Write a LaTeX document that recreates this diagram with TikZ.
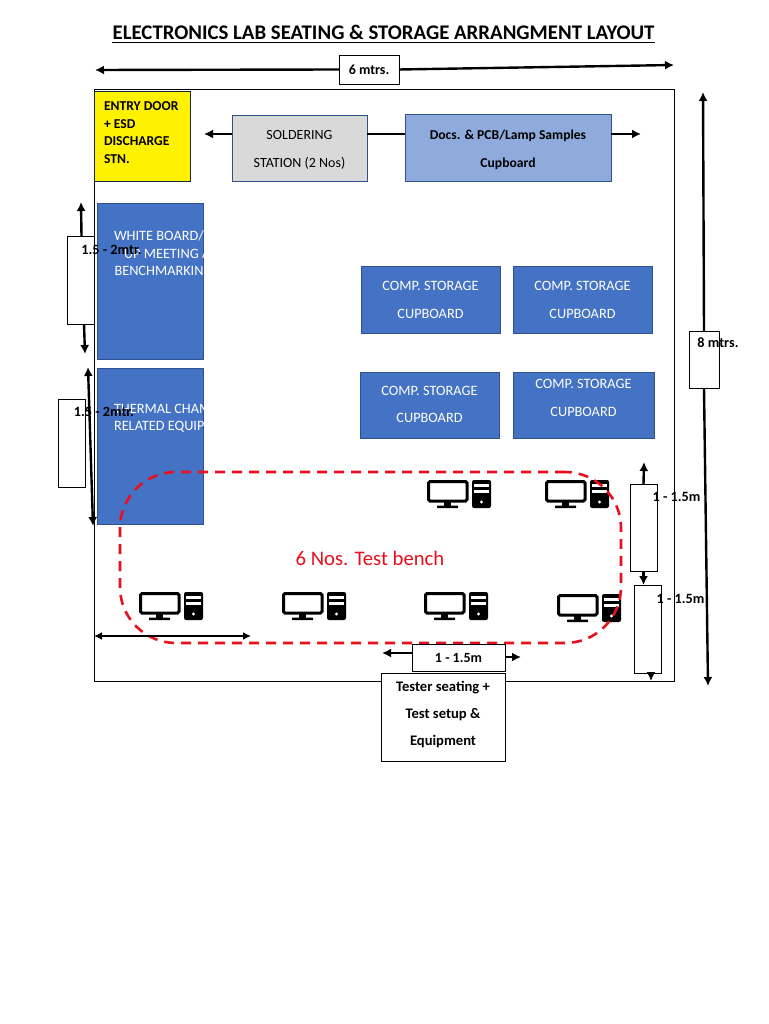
\documentclass[tikz,border=0pt]{standalone}
\usepackage{fontspec}
\setmainfont{Carlito}
\usetikzlibrary{arrows.meta}
\definecolor{bluebox}{HTML}{4472C4}
\definecolor{blueedge}{HTML}{2F528F}
\definecolor{lightblue}{HTML}{8FAADC}
\definecolor{greybox}{HTML}{D9D9D9}
\definecolor{dashred}{HTML}{E8101C}
\tikzset{
  x=1pt,y=-1pt,
  every node/.style={outer sep=0pt},
  box/.style={draw=blueedge,line width=1pt,inner sep=0pt,anchor=north west},
  blue/.style={box,fill=bluebox},
  btext/.style={inner sep=0pt,text=white,align=center,font=\fontsize{14.3}{27.5}\selectfont},
  dim/.style={draw=black,fill=white,line width=0.9pt,inner sep=0pt,anchor=north west,font=\bfseries\fontsize{14}{15}\selectfont},
  lbl/.style={inner sep=0pt,font=\bfseries\fontsize{14.2}{15}\selectfont},
  clipped/.style={inner sep=0pt,anchor=west,text=white,font=\fontsize{14.3}{15}\selectfont},
  arr/.style={line width=2.4pt,-{Latex[length=9pt,width=9pt]},black},
  darr/.style={line width=2.4pt,{Latex[length=9pt,width=9pt]}-{Latex[length=9pt,width=9pt]},black},
  pics/computer/.style={code={
    \draw[line width=3pt,rounded corners=1.5pt] (1.5,1.5) rectangle (40,21);
    \fill (17,22) rectangle (24,26);
    \fill[rounded corners=0.5pt] (10,25.5) rectangle (31,28);
    \fill[rounded corners=2pt] (45,0) rectangle (64,28);
    \fill[white] (47,4) rectangle (62,7);
    \fill[white] (47,10) rectangle (62,13);
    \fill[white] (54.5,22) circle (1.6);
  }}
}
\begin{document}
\begin{tikzpicture}
\useasboundingbox (0,0) rectangle (768,1024);
\fill[white] (0,0) rectangle (768,1024);
% title
\node[inner sep=0pt,font=\bfseries\fontsize{20.8}{24}\selectfont] (title) at (383.5,32) {ELECTRONICS LAB SEATING \& STORAGE ARRANGMENT LAYOUT};
\coordinate (ul) at (112,42.5);
\coordinate (ur) at (655,42.5);
\draw[line width=1.2pt] (ul) -- (ur);
% room
\node[draw=black,line width=1pt,minimum width=580pt,minimum height=591pt,inner sep=0pt,anchor=north west] (room) at (94,90) {};
% top row
\node[box,fill=yellow,draw=black!55!blueedge,minimum width=96pt,minimum height=90pt] (door) at (94,92) {};
\node[inner sep=0pt,anchor=north west,align=left,font=\bfseries\fontsize{13.6}{17.6}\selectfont] (doortext) at (104,101.5) {ENTRY DOOR\\+ ESD\\DISCHARGE\\STN.};
\node[box,fill=greybox,minimum width=135pt,minimum height=66pt] (sold) at (232,116) {};
\node[inner sep=0pt,align=center,font=\fontsize{14}{27.5}\selectfont] (soldtext) at (299.5,150) {SOLDERING\\STATION (2 Nos)};
\node[box,fill=lightblue,minimum width=206pt,minimum height=67pt] (docs) at (405,115) {};
\node[inner sep=0pt,align=center,font=\bfseries\fontsize{13.6}{27.5}\selectfont] (docstext) at (508,150) {Docs. \& PCB/Lamp Samples\\Cupboard};
\coordinate (soldL) at (204,134);
\coordinate (docsR) at (641,134);
\draw[arr] (sold.west |- soldL) -- (soldL);
\draw[line width=2.4pt] (sold.east |- soldL) -- (docs.west |- soldL);
\draw[arr] (docs.east |- docsR) -- (docsR);
% left blue panels, text cut at the right edge
\node[blue,minimum width=106.5pt,minimum height=156pt] (wb) at (97,203.5) {};
\node[blue,minimum width=106.5pt,minimum height=156pt] (th) at (97,368) {};
\begin{scope}
\clip (97,203) rectangle (203.5,359);
\node[clipped] (wb1) at (114,235.5) {WHITE BOARD/S};
\node[clipped] (wb2) at (124,253.5) {UP MEETING A};
\node[clipped] (wb3) at (114.5,271) {BENCHMARKING};
\end{scope}
\begin{scope}
\clip (97,368) rectangle (203.5,524);
\node[clipped] (th1) at (114,409) {THERMAL CHAMBER};
\node[clipped] (th2) at (114,427) {RELATED EQUIPMENT};
\end{scope}
% storage
\node[blue,minimum width=139pt,minimum height=67pt] (c1) at (361,266) {};
\node[btext] (c1t) at (430.5,300) {COMP. STORAGE\\CUPBOARD};
\node[blue,minimum width=139pt,minimum height=67pt] (c2) at (513,266) {};
\node[btext] (c2t) at (582.5,300) {COMP. STORAGE\\CUPBOARD};
\node[blue,minimum width=139pt,minimum height=66pt] (c3) at (360,372) {};
\node[btext] (c3t) at (429.5,404.5) {COMP. STORAGE\\CUPBOARD};
\node[blue,minimum width=141pt,minimum height=66pt] (c4) at (513,372) {};
\node[btext] (c4t) at (583.5,398) {COMP. STORAGE\\CUPBOARD};
% computers
\pic at (427,480) {computer};
\pic at (545,480) {computer};
\pic at (139,592) {computer};
\pic at (282,592) {computer};
\pic at (424,592) {computer};
\pic at (557,594) {computer};
% bench zone
\node[draw=dashred,line width=2.6pt,dash pattern=on 10pt off 7pt,rounded corners=56pt,minimum width=501pt,minimum height=171pt,inner sep=0pt,anchor=north west] (bench) at (120,472) {};
\node[inner sep=0pt,text=dashred,font=\fontsize{20.7}{24}\selectfont] (benchtext) at (370,558) {6 Nos. Test bench};
% 6 m
\node[dim,minimum width=60pt,minimum height=29pt] (six) at (339,55) {6 mtrs.};
\coordinate (sixL) at (95,70);
\coordinate (sixR) at (674,65);
\draw[arr] (six.west) -- (sixL);
\draw[arr] (six.east) -- (sixR);
% 8 m
\node[dim,minimum width=30pt,minimum height=57pt] (eight) at (689,331) {};
\node[lbl] (eighttext) at (718,343) {8 mtrs.};
\coordinate (eightT) at (703,92);
\coordinate (eightB) at (708,686);
\draw[arr] (eight.north) -- (eightT);
\draw[arr] (eight.south) -- (eightB);
% left dims
\node[dim,minimum width=27pt,minimum height=88pt] (la) at (67,236) {};
\coordinate (laTop) at (81.5,236);
\coordinate (laBot) at (84,324);
\coordinate (laT) at (81,202);
\coordinate (laB) at (85,354);
\draw[arr] (laTop) -- (laT);
\draw[arr] (laBot) -- (laB);
\node[dim,minimum width=27pt,minimum height=88pt] (lb) at (58,399) {};
\coordinate (lbT) at (88,367);
\coordinate (lbB) at (93,526);
\draw[darr] (lbT) -- (lbB);
% bench dims
\coordinate (hL) at (94,636);
\coordinate (hR) at (251,636);
\draw[line width=1.8pt,{Latex[length=8pt,width=8pt]}-{Latex[length=8pt,width=8pt]}] (hL) -- (hR);
\node[dim,minimum width=93pt,minimum height=27pt] (hbox) at (412,644) {1 - 1.5m};
\coordinate (hbL) at (382,653);
\coordinate (hbR) at (521,657);
\draw[arr] (hbox.west |- hbL) -- (hbL);
\draw[arr] (hbox.east |- hbR) -- (hbR);
\node[dim,minimum width=124pt,minimum height=88pt] (tester) at (381,673) {};
\node[inner sep=0pt,align=center,font=\bfseries\fontsize{14.6}{27}\selectfont] (testertext) at (443,714.5) {Tester seating +\\Test setup \&\\Equipment};
% right dims
\node[dim,minimum width=27pt,minimum height=87pt] (ra) at (630,484) {};
\node[dim,minimum width=27pt,minimum height=88pt] (rb) at (634,585) {};
\coordinate (raT) at (644,462);
\coordinate (rbTop) at (651,673);
\coordinate (rbB) at (651,681);
\draw[arr] (ra.north) -- (raT);
\draw[arr] (ra.south) -- (ra.south |- rb.north);
\draw[arr] (rbTop) -- (rbB);
% overlapping labels
\node[lbl] (lat) at (111.5,250) {1.5 - 2mtr.};
\node[lbl] (lbt) at (104,412) {1.5 - 2mtr.};
\node[lbl] (rat) at (676.5,497) {1 - 1.5m};
\node[lbl] (rbt) at (680.5,598.5) {1 - 1.5m};
\end{tikzpicture}
\end{document}
